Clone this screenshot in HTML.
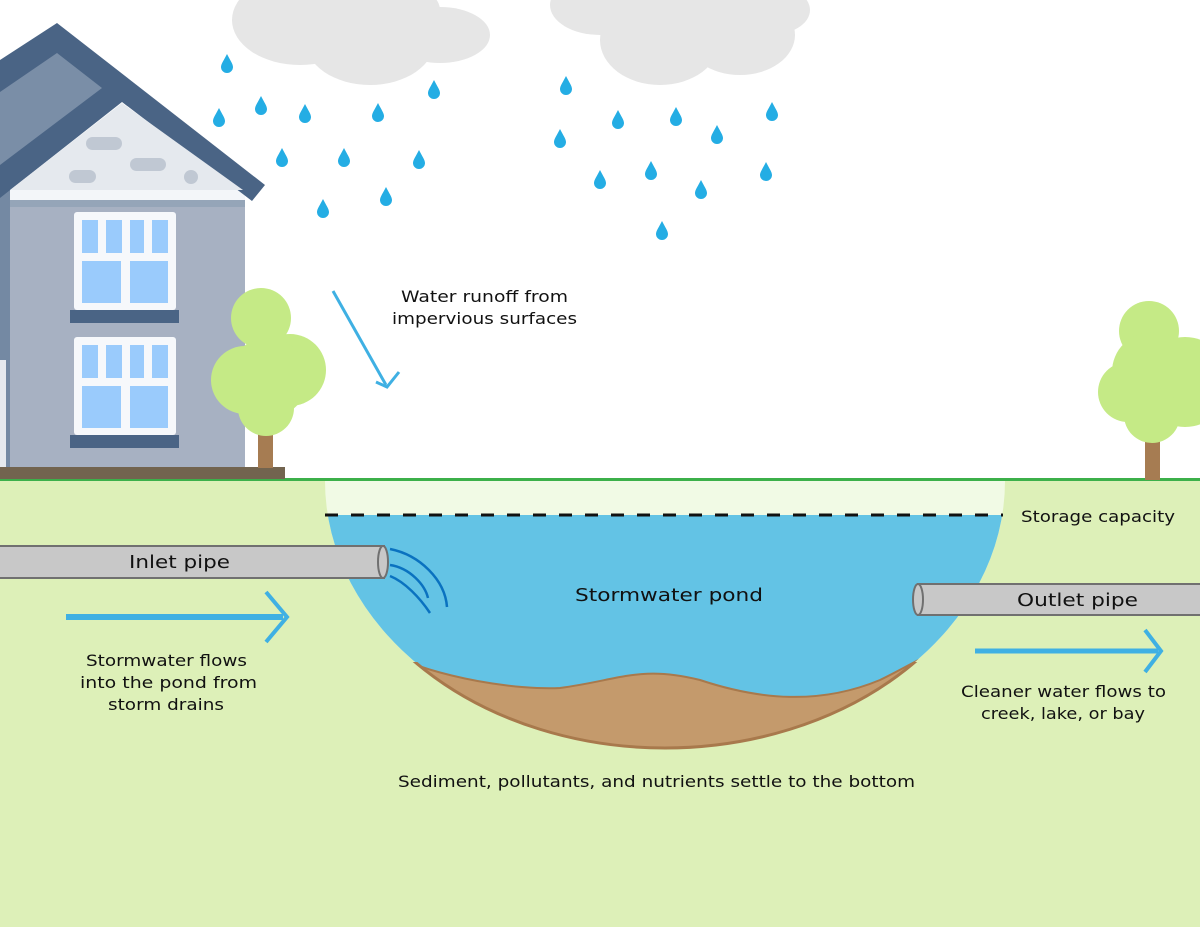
<!DOCTYPE html>
<html><head><meta charset="utf-8"><style>
html,body{margin:0;padding:0;background:#fff}
svg{display:block}
text{font-family:"DejaVu Sans","Liberation Sans",sans-serif;font-size:16px;fill:#111}
</style></head><body>
<svg width="1200" height="927" viewBox="0 0 1200 927" xmlns="http://www.w3.org/2000/svg">
<rect x="0" y="0" width="1200" height="927" fill="#fff"/>
<rect x="0" y="480" width="1200" height="447" fill="#ddf0b8"/>
<path d="M325,481 A340,267 0 0 0 1005,481 Z" fill="#f1fae5"/>
<clipPath id="bowl"><path d="M325,481 A340,267 0 0 0 1005,481 Z"/></clipPath>
<clipPath id="low"><rect x="300" y="662" width="720" height="200"/></clipPath>
<g clip-path="url(#bowl)">
<rect x="300" y="515" width="720" height="260" fill="#63c3e5"/>
<path d="M380,650 C440,680 520,690 560,688 C620,680 640,665 700,680 C760,700 820,705 880,680 C905,668 925,655 960,640 L960,800 L380,800 Z" fill="#c49a6c" stroke="#a8794c" stroke-width="2"/>
</g>
<path d="M325,481 A340,267 0 0 0 1005,481" fill="none" stroke="#a8794c" stroke-width="3" clip-path="url(#low)"/>
<line x1="325" y1="515" x2="1003" y2="515" stroke="#111" stroke-width="3" stroke-dasharray="13,13"/>
<rect x="0" y="478" width="1200" height="3" fill="#3cb04a"/>
<g fill="#e6e6e6">
<ellipse cx="300" cy="20" rx="68" ry="45"/><ellipse cx="370" cy="40" rx="65" ry="45"/><ellipse cx="440" cy="35" rx="50" ry="28"/><ellipse cx="360" cy="10" rx="80" ry="35"/>
<ellipse cx="600" cy="5" rx="50" ry="30"/><ellipse cx="660" cy="40" rx="60" ry="45"/><ellipse cx="740" cy="35" rx="55" ry="40"/><ellipse cx="770" cy="10" rx="40" ry="25"/><ellipse cx="700" cy="5" rx="80" ry="30"/>
</g>
<defs><path id="d" d="M0,-10 C3,-4 6,0 6,3 A6,6 0 0 1 -6,3 C-6,0 -3,-4 0,-10 Z" fill="#24ade4"/></defs>
<g>
<use href="#d" x="227" y="64"/><use href="#d" x="434" y="90"/><use href="#d" x="261" y="106"/><use href="#d" x="305" y="114"/><use href="#d" x="378" y="113"/><use href="#d" x="219" y="118"/><use href="#d" x="282" y="158"/><use href="#d" x="344" y="158"/><use href="#d" x="419" y="160"/><use href="#d" x="386" y="197"/><use href="#d" x="323" y="209"/>
<use href="#d" x="566" y="86"/><use href="#d" x="772" y="112"/><use href="#d" x="618" y="120"/><use href="#d" x="676" y="117"/><use href="#d" x="717" y="135"/><use href="#d" x="560" y="139"/><use href="#d" x="651" y="171"/><use href="#d" x="600" y="180"/><use href="#d" x="766" y="172"/><use href="#d" x="701" y="190"/><use href="#d" x="662" y="231"/>
</g>
<rect x="0" y="180" width="12" height="290" fill="#7489a3"/>
<rect x="10" y="188" width="235" height="12" fill="#f3f6f9"/>
<rect x="10" y="200" width="235" height="270" fill="#a7b1c2"/>
<rect x="10" y="200" width="235" height="7" fill="#95a5b8"/>
<polygon points="0,60 57,23 265,185 252,201 122,102 0,198" fill="#4a6485"/>
<polygon points="0,92 57,53 102,88 0,165" fill="#7a8ea7"/>
<polygon points="10,190 122,103 243,190" fill="#e5e9ee"/>
<g fill="#c0c8d3"><rect x="86" y="137" width="36" height="13" rx="6.5"/><rect x="130" y="158" width="36" height="13" rx="6.5"/><rect x="69" y="170" width="27" height="13" rx="6.5"/><circle cx="191" cy="177" r="7"/></g>
<rect x="0" y="360" width="6" height="110" fill="#e5e9ee"/>
<g>
<rect x="74" y="212" width="102" height="98" rx="3" fill="#f6f8fb"/>
<g fill="#9acbfc"><rect x="82" y="220" width="16" height="33"/><rect x="106" y="220" width="16" height="33"/><rect x="130" y="220" width="14" height="33"/><rect x="152" y="220" width="16" height="33"/><rect x="82" y="261" width="39" height="42"/><rect x="130" y="261" width="38" height="42"/></g>
<rect x="70" y="310" width="109" height="13" fill="#4a6485"/>
<rect x="74" y="337" width="102" height="98" rx="3" fill="#f6f8fb"/>
<g fill="#9acbfc"><rect x="82" y="345" width="16" height="33"/><rect x="106" y="345" width="16" height="33"/><rect x="130" y="345" width="14" height="33"/><rect x="152" y="345" width="16" height="33"/><rect x="82" y="386" width="39" height="42"/><rect x="130" y="386" width="38" height="42"/></g>
<rect x="70" y="435" width="109" height="13" fill="#4a6485"/>
</g>
<rect x="0" y="467" width="285" height="12" fill="#72644f"/>
<rect x="258" y="428" width="15" height="40" fill="#a67c52"/>
<g fill="#c5ea86"><circle cx="261" cy="318" r="30"/><circle cx="290" cy="370" r="36"/><circle cx="245" cy="380" r="34"/><circle cx="268" cy="378" r="40"/><circle cx="266" cy="408" r="28"/></g>
<rect x="1145" y="438" width="15" height="42" fill="#a67c52"/>
<g fill="#c5ea86"><circle cx="1149" cy="331" r="30"/><circle cx="1152" cy="372" r="40"/><circle cx="1128" cy="392" r="30"/><circle cx="1185" cy="382" r="45"/><circle cx="1152" cy="415" r="28"/></g>
<g stroke="#3fb0e3" stroke-width="3" fill="none"><line x1="333" y1="291" x2="386" y2="385"/><polyline points="376,382 387,387 399,372"/></g>
<text x="401" y="302" textLength="167" lengthAdjust="spacingAndGlyphs">Water runoff from</text>
<text x="392" y="324" textLength="185" lengthAdjust="spacingAndGlyphs">impervious surfaces</text>
<rect x="-2" y="546" width="386" height="32" fill="#c8c8c8" stroke="#707070" stroke-width="2"/>
<ellipse cx="383" cy="562" rx="5" ry="16" fill="#c8c8c8" stroke="#707070" stroke-width="2"/>
<text x="129" y="568" style="font-size:18px" textLength="101" lengthAdjust="spacingAndGlyphs">Inlet pipe</text>
<g stroke="#0a72c0" stroke-width="2.5" fill="none"><path d="M390,549 C420,555 445,580 447,607"/><path d="M390,565 C410,568 425,585 428,598"/><path d="M390,576 C405,582 420,598 430,613"/></g>
<text x="575" y="601" style="font-size:18px" textLength="188" lengthAdjust="spacingAndGlyphs">Stormwater pond</text>
<rect x="918" y="584" width="290" height="31" fill="#c8c8c8" stroke="#707070" stroke-width="2"/>
<ellipse cx="918" cy="599.5" rx="5" ry="15.5" fill="#c8c8c8" stroke="#707070" stroke-width="2"/>
<text x="1017" y="606" style="font-size:18px" textLength="121" lengthAdjust="spacingAndGlyphs">Outlet pipe</text>
<text x="1021" y="522" textLength="154" lengthAdjust="spacingAndGlyphs">Storage capacity</text>
<g stroke="#3fb0e3" fill="none"><line x1="66" y1="617" x2="283" y2="617" stroke-width="6"/><polyline points="266,592 287,617 266,642" stroke-width="4"/>
<line x1="975" y1="651" x2="1158" y2="651" stroke-width="5"/><polyline points="1145,630 1161,651 1145,672" stroke-width="4"/></g>
<text x="86" y="666" textLength="161" lengthAdjust="spacingAndGlyphs">Stormwater flows</text>
<text x="80" y="688" textLength="177" lengthAdjust="spacingAndGlyphs">into the pond from</text>
<text x="108" y="710" textLength="116" lengthAdjust="spacingAndGlyphs">storm drains</text>
<text x="961" y="697" textLength="205" lengthAdjust="spacingAndGlyphs">Cleaner water flows to</text>
<text x="981" y="719" textLength="164" lengthAdjust="spacingAndGlyphs">creek, lake, or bay</text>
<text x="398" y="787" textLength="517" lengthAdjust="spacingAndGlyphs">Sediment, pollutants, and nutrients settle to the bottom</text>
</svg>
</body></html>
